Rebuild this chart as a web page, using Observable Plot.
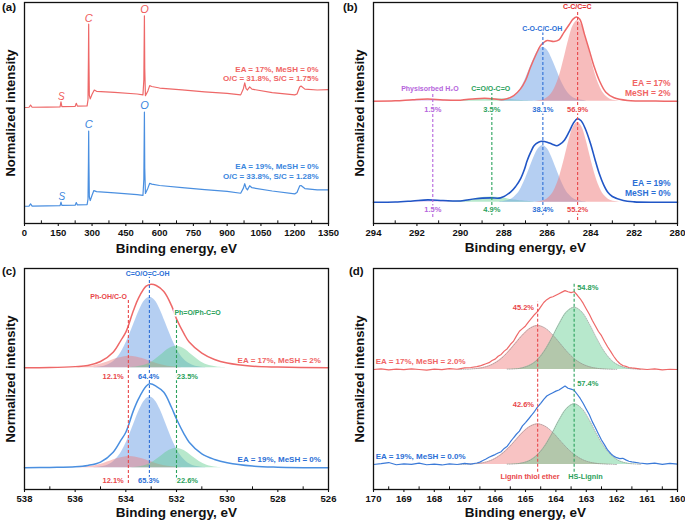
<!DOCTYPE html>
<html><head><meta charset="utf-8">
<script src="https://cdn.jsdelivr.net/npm/d3@7"></script>
<script src="https://cdn.jsdelivr.net/npm/@observablehq/plot@0.6"></script>
<style>
body{margin:0;background:#fff;font-family:"Liberation Sans",Arial,sans-serif;}
#wrap{position:relative;width:685px;height:523px;overflow:hidden;}
#wrap svg{position:absolute;}
.pl{position:absolute;font-weight:bold;font-size:11.5px;color:#111;line-height:12px;}
</style></head><body><div id="wrap"></div>
<script>
// ---------- tick labels ----------
const aTicks = [0,150,300,450,600,750,900,1050,1200,1350];
const aMinor = [75,225,375,525,675,825,975,1125,1275];
const bTicks = [294,292,290,288,286,284,282,280];
const bMinor = [293,291,289,287,285,283,281];
const cTicks = [538,536,534,532,530,528,526];
const cMinor = [537,535,533,531,529,527];
const dTicks = [170,169,168,167,166,165,164,163,162,161,160];
const dMinor = [169.5,168.5,167.5,166.5,165.5,164.5,163.5,162.5,161.5,160.5];

// ---------- (a) survey spectra: [eV, intensity] ----------
const surveyRed = [[0,52.5],[20,52.6],[27,53.6],[34,52.6],[100,52.7],[158,52.8],[162,55.0],[166,52.9],[225,53.0],[230,54.4],[235,53.1],[278,53.2],[282,56],[284,75],[285,90.2],[286,75],[288,58],[292,56.4],[300,58.5],[310,60.4],[320,59.8],[400,59.3],[500,58.6],[526,58.2],[530,65],[532.5,94],[534,70],[537,57.8],[548,60],[556,62.4],[565,62],[600,61.3],[700,60.5],[800,59.6],[900,58.9],[960,58.2],[972,61],[978,63.6],[984,61],[990,60.4],[1000,61.8],[1010,60.8],[1100,59.2],[1200,58.2],[1210,58.6],[1222,61.8],[1228,62.2],[1245,60.8],[1300,60.4],[1350,60.6]];
const surveyBlue = [[0,7.8],[20,7.9],[27,8.9],[34,7.9],[100,8.0],[158,8.1],[162,9.7],[166,8.2],[225,8.3],[230,9.5],[235,8.4],[278,8.5],[282,11],[284,28],[285,41.8],[286,28],[288,12],[292,10.4],[300,12.8],[308,14.9],[320,14.4],[400,13.9],[500,13.1],[526,12.7],[530,20],[532.5,50.4],[534,25],[537,13.6],[548,16],[556,18.2],[565,17.8],[600,17.2],[700,16.2],[800,15.3],[900,14.5],[960,13.7],[972,16],[978,18],[984,16],[990,15.2],[1000,17.1],[1010,16.2],[1100,14.7],[1200,13.4],[1210,14],[1222,17],[1228,17.2],[1245,15.8],[1300,15.2],[1350,15.2]];

// ---------- (b) C 1s ----------
const bBaseTop = 55.3, bBaseBot = 9.6;
const bEnvTop = [[294,55.3],[293,55.5],[292.2,56],[291.5,56.3],[290.8,55.9],[290,55.8],[289.3,56.5],[288.7,56.6],[288,56.1],[287.54,57.9],[287.23,60.9],[287,64.7],[286.77,70.7],[286.5,76.8],[286.31,80.5],[286.15,82],[286,82.8],[285.69,82.4],[285.46,83.1],[285.23,86.5],[285.0,89.8],[284.8,92.6],[284.65,93.4],[284.5,92.4],[284.29,85.8],[284.06,78.3],[283.83,70.7],[283.6,64.7],[283.3,59.4],[282.92,56.9],[282.3,55.7],[281,55.4],[280,55.3]];
const bEnvBot = [[294,9.6],[293,9.7],[292.2,10.2],[291.5,10.7],[290.8,10.4],[290,10.2],[289.3,11.2],[288.6,11.6],[288.15,11.6],[287.69,14.2],[287.45,16.8],[287.23,20.2],[287.05,24.5],[286.92,28.5],[286.75,32.5],[286.6,35.3],[286.4,36.8],[286.23,37.2],[286.0,36.8],[285.77,35.9],[285.55,35.2],[285.39,36],[285.2,37.8],[285.0,41.3],[284.8,45.3],[284.62,47.4],[284.45,46.6],[284.25,43],[284.0,36],[283.8,29],[283.6,22.5],[283.4,17.5],[283.2,14],[283,12.2],[282.5,10.4],[282,9.8],[281,9.6],[280,9.6]];
const bCCTop = [[286.6,55.3],[286.1,56.2],[285.8,58.8],[285.6,62.4],[285.4,68.0],[285.2,75.6],[285.0,83.5],[284.8,89.6],[284.6,91.9],[284.4,89.6],[284.2,83.5],[284.0,75.6],[283.8,68.0],[283.6,62.4],[283.4,58.8],[283.1,56.2],[282.6,55.3]];
const bCOTop = [[288.2,55.4],[287.7,56.4],[287.4,58.6],[287.2,61.4],[287.0,65.4],[286.8,70.2],[286.6,74.9],[286.4,78.5],[286.2,79.8],[286.0,78.5],[285.8,74.9],[285.6,70.2],[285.4,65.4],[285.2,61.4],[285.0,58.6],[284.7,56.4],[284.2,55.4]];
const bCOOTop = [[290.5,55.3],[289.5,55.9],[289.0,56.4],[288.5,56.6],[288.0,56.4],[287.5,55.9],[286.5,55.3]];
const bH2OTop = [[293.3,55.3],[292.3,55.7],[291.8,56.0],[291.3,56.2],[290.8,56.0],[290.3,55.7],[289.3,55.3]];
const bCCBot = [[286.6,9.6],[286.1,10.5],[285.8,13.0],[285.6,16.6],[285.4,22.2],[285.2,29.5],[285.0,37.4],[284.8,43.5],[284.6,45.8],[284.4,43.5],[284.2,37.4],[284.0,29.5],[283.8,22.2],[283.6,16.6],[283.4,13.0],[283.1,10.5],[282.6,9.6]];
const bCOBot = [[288.2,9.7],[287.7,10.7],[287.4,13.1],[287.2,16.0],[287.0,20.2],[286.8,25.2],[286.6,30.2],[286.4,33.9],[286.2,35.3],[286.0,33.9],[285.8,30.2],[285.6,25.2],[285.4,20.2],[285.2,16.0],[285.0,13.1],[284.7,10.7],[284.2,9.7]];
const bCOOBot = [[290.6,9.7],[289.6,10.7],[289.1,11.6],[288.6,12.0],[288.1,11.6],[287.6,10.7],[286.6,9.7]];
const bH2OBot = [[293.3,9.6],[292.3,10.0],[291.8,10.2],[291.3,10.4],[290.8,10.2],[290.3,10.0],[289.3,9.6]];

// ---------- (c) O 1s ----------
const cBaseTop = 55.1, cBaseBot = 9.8;
const cEnvTop = [[538,55.1],[537,55.2],[536,55.6],[535.5,56.1],[535,57.9],[534.5,62.1],[534.2,67.4],[534,71.2],[533.7,81.0],[533.5,86.6],[533.2,92.0],[533.0,92.9],[532.8,92.3],[532.5,89.6],[532.2,83.3],[532,77.2],[531.7,70.4],[531.5,66.7],[531,61.7],[530.5,58.8],[530,57.2],[529,55.8],[528,55.4],[526,55.1]];
const cEnvBot = [[538,9.8],[537,10.0],[536,10.3],[535.5,10.9],[535,12.4],[534.5,16.9],[534.2,22.2],[534,25.9],[533.7,35.7],[533.5,41.0],[533.2,46.7],[533.05,47.8],[532.8,46.7],[532.5,44.0],[532.2,37.2],[532,31.9],[531.7,25.1],[531.5,21.4],[531,16.1],[530.5,13.6],[530,12.1],[529,10.6],[528,10.1],[526,9.8]];
const cCOTop = [[535.25,55.2],[534.85,55.8],[534.55,57.3],[534.25,60.9],[534.05,64.9],[533.85,70.1],[533.65,75.9],[533.45,81.5],[533.25,85.5],[533.05,87.0],[532.85,85.5],[532.65,81.5],[532.45,75.9],[532.25,70.1],[532.05,64.9],[531.85,60.9],[531.55,57.3],[531.25,55.8],[530.85,55.2]];
const cPhOHTop = [[536.0,55.1],[535.35,55.8],[534.85,57.2],[534.35,59.3],[533.85,60.3],[533.35,59.3],[532.85,57.2],[532.35,55.8],[531.7,55.1]];
const cPhOTop = [[534.0,55.1],[533.6,55.4],[533.2,56.4],[532.9,58.3],[532.6,61.0],[532.3,63.7],[532.0,64.8],[531.7,63.7],[531.4,61.0],[531.1,58.3],[530.8,56.4],[530.4,55.4],[530.0,55.1]];
const cCOBot = [[535.25,9.9],[534.85,10.5],[534.55,12.0],[534.25,15.6],[534.05,19.6],[533.85,24.8],[533.65,30.7],[533.45,36.3],[533.25,40.3],[533.05,41.8],[532.85,40.3],[532.65,36.3],[532.45,30.7],[532.25,24.8],[532.05,19.6],[531.85,15.6],[531.55,12.0],[531.25,10.5],[530.85,9.9]];
const cPhOHBot = [[536.0,9.8],[535.35,10.5],[534.85,11.9],[534.35,13.9],[533.85,14.9],[533.35,13.9],[532.85,11.9],[532.35,10.5],[531.7,9.8]];
const cPhOBot = [[534.0,9.8],[533.6,10.1],[533.2,11.0],[532.9,12.7],[532.6,15.2],[532.3,17.6],[532.0,18.7],[531.7,17.6],[531.4,15.2],[531.1,12.7],[530.8,11.0],[530.4,10.1],[530.0,9.8]];

// ---------- (d) S 2p ----------
const dBaseTop = 54.3, dBaseBot = 11.3;
const dEnvTop = [[170,54.3],[169.75,54.6],[169.5,54.1],[169.25,54.5],[169,54.2],[168.75,54.6],[168.5,54.3],[168.25,54.0],[168,54.5],[167.75,54.2],[167.5,54.7],[167.25,54.4],[167,55.0],[166.8,55.2],[166.6,55.6],[166.5,55.9],[166.4,56.4],[166.3,56.9],[166.2,57.4],[166.1,58.4],[166,59.0],[165.9,60.3],[165.8,61.1],[165.7,62.6],[165.6,63.7],[165.5,65.6],[165.4,67.0],[165.3,69.4],[165.2,71.6],[165.1,72.8],[165,74.0],[164.9,75.8],[164.8,77.5],[164.7,79.2],[164.6,80.6],[164.5,82.6],[164.4,84.6],[164.3,85.9],[164.2,86.8],[164.1,87.2],[164,87.9],[163.9,88.6],[163.8,89.3],[163.7,90.0],[163.6,89.5],[163.5,89.1],[163.4,89.5],[163.3,88.0],[163.2,86.3],[163.1,84.2],[163,81.7],[162.9,79.3],[162.8,76.5],[162.7,74.0],[162.6,71.5],[162.5,69.6],[162.4,67.0],[162.3,64.6],[162.2,62.5],[162.1,60.3],[162,58.4],[161.9,57.0],[161.8,56.1],[161.7,55.7],[161.6,55.2],[161.5,55.0],[161.25,54.6],[161,54.3],[160.75,54.6],[160.5,54.1],[160.25,54.4],[160,54.3]];
const dEnvBot = [[170,11.3],[169.75,11.7],[169.5,12.2],[169.25,11.2],[169,11.6],[168.75,11.4],[168.5,11.9],[168.25,11.2],[168,11.5],[167.75,11.1],[167.5,11.6],[167.25,11.3],[167,11.8],[166.8,11.5],[166.6,12.0],[166.5,12.4],[166.4,13.1],[166.3,13.8],[166.2,14.6],[166.1,15.2],[166,15.8],[165.9,16.5],[165.8,17.1],[165.7,18.6],[165.6,19.6],[165.5,21.5],[165.4,23.3],[165.3,25.0],[165.2,26.4],[165.1,28.8],[165,30.3],[164.9,31.9],[164.8,33.6],[164.7,35.4],[164.6,37.4],[164.5,39.0],[164.4,40.8],[164.3,42.3],[164.2,43.1],[164.1,43.8],[164,44.5],[163.9,45.0],[163.8,45.9],[163.7,46.8],[163.6,45.8],[163.5,45.4],[163.4,44.9],[163.3,43.1],[163.2,41.2],[163.1,38.9],[163,36.3],[162.9,33.8],[162.8,30.6],[162.7,27.9],[162.6,25.1],[162.5,22.4],[162.4,20.2],[162.3,17.9],[162.2,16.3],[162.1,15.1],[162,14.4],[161.9,14.0],[161.8,14.1],[161.7,13.4],[161.6,12.8],[161.5,12.5],[161.25,12.0],[161,11.6],[160.75,11.9],[160.5,11.4],[160.25,11.8],[160,11.5]];
const dThioTop = [[167.2,54.3],[166.8,54.5],[166.4,55.2],[166.1,56.6],[165.85,58.7],[165.6,61.9],[165.35,65.9],[165.1,69.9],[164.85,73.0],[164.6,74.2],[164.35,73.0],[164.1,69.9],[163.85,65.9],[163.6,61.9],[163.35,58.7],[163.1,56.6],[162.8,55.2],[162.4,54.5],[162.0,54.3]];
const dHSTop = [[165.6,54.4],[165.2,54.8],[164.9,56.0],[164.65,58.2],[164.4,62.3],[164.15,68.2],[163.9,74.9],[163.65,80.4],[163.4,82.5],[163.15,80.4],[162.9,74.9],[162.65,68.2],[162.4,62.3],[162.15,58.2],[161.9,56.0],[161.6,54.8],[161.2,54.4]];
const dThioBot = [[167.2,11.3],[166.8,11.5],[166.4,12.1],[166.1,13.4],[165.85,15.4],[165.6,18.3],[165.35,22.0],[165.1,25.8],[164.85,28.6],[164.6,29.7],[164.35,28.6],[164.1,25.8],[163.85,22.0],[163.6,18.3],[163.35,15.4],[163.1,13.4],[162.8,12.1],[162.4,11.5],[162.0,11.3]];
const dHSBot = [[165.6,11.4],[165.2,11.8],[164.9,12.9],[164.65,15.2],[164.4,19.1],[164.15,24.8],[163.9,31.4],[163.65,36.7],[163.4,38.8],[163.15,36.7],[162.9,31.4],[162.65,24.8],[162.4,19.1],[162.15,15.2],[161.9,12.9],[161.6,11.8],[161.2,11.4]];

// ---------- drawing ----------
const FONT = '"Liberation Sans", Arial, Helvetica, sans-serif';
const RED = "#ee6868", RED_T = "#e8474a", RED_F = "#f07a7a";
const BLUE_A = "#4a8fe0", BLUE_B = "#2156c6", BLUE_D = "#3b7ad8", BLUE_T = "#2c6fd6", BLUE_F = "#6c9fe6";
const GREEN_T = "#2ba15c", GREEN_F = "#5fcb8d", PURPLE_T = "#b565dc", PURPLE_F = "#c896e4";
const X = d => d[0], Y = d => d[1];
const wrap = document.getElementById("wrap");

const area = (data, base, fill, op, curve = "catmull-rom") =>
  Plot.areaY(data, {x: X, y1: base, y2: Y, fill, fillOpacity: op, curve});
const line = (data, stroke, w, curve = "linear") =>
  Plot.line(data, {x: X, y: Y, stroke, strokeWidth: w, curve});
const lab = (t, x, y, fill, o = {}) =>
  Plot.text([t], {x, y, text: d => d, fill, fontSize: 7.5, ...o});
const halo = (t, x, y, fill, o = {}) => [
  Plot.text([t], {x, y, text: d => d, fill: "white", stroke: "white", strokeWidth: 3, strokeLinejoin: "round", fontSize: 7.5, ...o}),
  Plot.text([t], {x, y, text: d => d, fill, fontSize: 7.5, ...o})
];
const dash = (x, y1, y2, stroke) =>
  Plot.ruleX([x], {y1, y2, stroke, strokeWidth: 1.1, strokeDasharray: "3,2"});

function panel({domain, ticks, minor, marks, left, top, width, height, mt, mr, mb, ml, xdy}) {
  const svg = Plot.plot({
    width, height, marginTop: mt, marginRight: mr, marginBottom: mb, marginLeft: ml,
    x: {domain}, y: {domain: [0, 100], axis: null},
    style: {fontFamily: FONT, fontWeight: "bold", fontSize: "9.5px", color: "#111", background: "transparent", overflow: "visible"},
    marks: [
      ...marks,
      Plot.ruleX(minor, {y1: 0, y2: 1.2, stroke: "#111", strokeWidth: 1}),
      Plot.axisX({ticks, tickSize: 3, tickPadding: 2.5, tickFormat: d => String(d), label: null, fontSize: 9.5, strokeWidth: 1.1}),
      Plot.frame({stroke: "#111", strokeWidth: 1.3}),
      Plot.text(["Normalized intensity"], {text: d => d, frameAnchor: "left", textAnchor: "middle", lineAnchor: "middle", rotate: -90, dx: -13.5, fontSize: 13, fill: "#111"}),
      Plot.text(["Binding energy, eV"], {text: d => d, frameAnchor: "bottom", textAnchor: "middle", lineAnchor: "middle", dy: xdy, fontSize: 13.5, fill: "#111"})
    ]
  });
  svg.style.left = left + "px";
  svg.style.top = top + "px";
  wrap.appendChild(svg);
}

// (a)
panel({
  domain: [0, 1350], ticks: aTicks, minor: aMinor, left: 0, top: 0, width: 342, height: 262,
  mt: 2, mr: 14, mb: 39, ml: 24, xdy: 25,
  marks: [
    line(surveyRed, RED, 1.2),
    line(surveyBlue, BLUE_A, 1.2),
    lab("C", 285, 92.6, "#f05a5a", {fontStyle: "italic", fontWeight: "normal", fontSize: 11}),
    lab("O", 533, 96.8, "#f05a5a", {fontStyle: "italic", fontWeight: "normal", fontSize: 11}),
    lab("S", 164, 57.5, "#f05a5a", {fontStyle: "italic", fontWeight: "normal", fontSize: 10}),
    lab("C", 285, 44.8, "#3a86de", {fontStyle: "italic", fontWeight: "normal", fontSize: 11}),
    lab("O", 533, 53.4, "#3a86de", {fontStyle: "italic", fontWeight: "normal", fontSize: 11}),
    lab("S", 166, 12.2, "#3a86de", {fontStyle: "italic", fontWeight: "normal", fontSize: 10}),
    lab("EA = 17%, MeSH = 0%", 1306, 69.7, "#f06464", {textAnchor: "end", fontSize: 8}),
    lab("O/C = 31.8%, S/C = 1.75%", 1306, 65.6, "#f06464", {textAnchor: "end", fontSize: 8}),
    lab("EA = 19%, MeSH = 0%", 1306, 25.8, "#3a86de", {textAnchor: "end", fontSize: 8}),
    lab("O/C = 33.8%, S/C = 1.28%", 1306, 21.5, "#3a86de", {textAnchor: "end", fontSize: 8})
  ]
});

// (b)
panel({
  domain: [294, 280], ticks: bTicks, minor: bMinor, left: 342, top: 0, width: 343, height: 262,
  mt: 2, mr: 8, mb: 39, ml: 31, xdy: 24,
  marks: [
    area(bH2OTop, bBaseTop, PURPLE_F, 0.45), area(bCOOTop, bBaseTop, GREEN_F, 0.45),
    area(bCOTop, bBaseTop, BLUE_F, 0.5), area(bCCTop, bBaseTop, RED_F, 0.5),
    area(bH2OBot, bBaseBot, PURPLE_F, 0.45), area(bCOOBot, bBaseBot, GREEN_F, 0.45),
    area(bCOBot, bBaseBot, BLUE_F, 0.5), area(bCCBot, bBaseBot, RED_F, 0.5),
    line(bEnvTop, RED, 1.5, "catmull-rom"),
    line(bEnvBot, BLUE_B, 1.6, "catmull-rom"),
    dash(291.27, 2.7, 59.3, PURPLE_T), dash(288.55, 3.6, 58.8, GREEN_T),
    dash(286.2, 3.6, 86.4, BLUE_T), dash(284.6, 1.4, 96.4, RED_T),
    ...halo("Physisorbed H\u2082O", 291.4, 61.1, PURPLE_T, {fontSize: 7}),
    ...halo("C=O/O-C=O", 288.6, 61.1, GREEN_T, {fontSize: 7}),
    ...halo("C-O-C/C-OH", 286.23, 88.2, BLUE_T, {fontSize: 7}),
    ...halo("C-C/C=C", 284.62, 98.2, "#e02a2a", {fontSize: 7}),
    ...halo("1.5%", 291.27, 51.6, PURPLE_T), ...halo("3.5%", 288.55, 51.6, GREEN_T),
    ...halo("38.1%", 286.2, 51.6, BLUE_T), ...halo("56.9%", 284.6, 51.6, RED_T),
    ...halo("1.5%", 291.27, 6.3, PURPLE_T), ...halo("4.9%", 288.55, 6.3, GREEN_T),
    ...halo("38.4%", 286.2, 6.3, BLUE_T), ...halo("55.2%", 284.6, 6.3, RED_T),
    lab("EA = 17%", 280.32, 63.3, "#f06464", {textAnchor: "end", fontSize: 8.5}),
    lab("MeSH = 2%", 280.32, 58.8, "#f06464", {textAnchor: "end", fontSize: 8.5}),
    lab("EA = 19%", 280.32, 18.1, BLUE_T, {textAnchor: "end", fontSize: 8.5}),
    lab("MeSH = 0%", 280.32, 13.6, BLUE_T, {textAnchor: "end", fontSize: 8.5})
  ]
});

// (c)
panel({
  domain: [538, 526], ticks: cTicks, minor: cMinor, left: 0, top: 262, width: 342, height: 261,
  mt: 6, mr: 14, mb: 34, ml: 24, xdy: 23,
  marks: [
    area(cCOTop, cBaseTop, BLUE_F, 0.5), area(cPhOHTop, cBaseTop, RED_F, 0.45), area(cPhOTop, cBaseTop, GREEN_F, 0.45),
    area(cCOBot, cBaseBot, BLUE_F, 0.5), area(cPhOHBot, cBaseBot, RED_F, 0.45), area(cPhOBot, cBaseBot, GREEN_F, 0.45),
    line(cEnvTop, RED, 1.5, "catmull-rom"),
    line(cEnvBot, BLUE_A, 1.5, "catmull-rom"),
    dash(533.9, 2.7, 85.5, RED_T), dash(533.07, 2.7, 96.1, BLUE_T), dash(532.0, 2.7, 77.4, GREEN_T),
    ...halo("C=O/O=C-OH", 533.14, 97.6, BLUE_T, {fontSize: 7}),
    ...halo("Ph-OH/C-O", 534.68, 87.0, RED_T, {fontSize: 7}),
    ...halo("Ph=O/Ph-C=O", 531.17, 80.2, GREEN_T, {fontSize: 7}),
    ...halo("12.1%", 534.5, 51.3, RED_T), ...halo("64.4%", 533.1, 51.3, BLUE_T), ...halo("23.5%", 531.57, 51.3, GREEN_T),
    ...halo("12.1%", 534.5, 4.1, RED_T), ...halo("65.3%", 533.1, 4.1, BLUE_T), ...halo("22.6%", 531.57, 4.1, GREEN_T),
    lab("EA = 17%, MeSH = 2%", 526.3, 58.4, "#f06464", {textAnchor: "end", fontSize: 8}),
    lab("EA = 19%, MeSH = 0%", 526.3, 13.6, BLUE_T, {textAnchor: "end", fontSize: 8})
  ]
});

// (d)
panel({
  domain: [170, 160], ticks: dTicks, minor: dMinor, left: 342, top: 262, width: 343, height: 261,
  mt: 6, mr: 8, mb: 34, ml: 31, xdy: 23,
  marks: [
    area(dThioTop, dBaseTop, RED_F, 0.45), area(dHSTop, dBaseTop, GREEN_F, 0.45),
    area(dThioBot, dBaseBot, RED_F, 0.45), area(dHSBot, dBaseBot, GREEN_F, 0.45),
    Plot.line(dThioTop, {x: X, y: Y, stroke: "#8a8a8a", strokeWidth: 0.6, strokeDasharray: "1,1.2", curve: "catmull-rom"}),
    Plot.line(dHSTop, {x: X, y: Y, stroke: "#8a8a8a", strokeWidth: 0.6, strokeDasharray: "1,1.2", curve: "catmull-rom"}),
    Plot.line(dThioBot, {x: X, y: Y, stroke: "#8a8a8a", strokeWidth: 0.6, strokeDasharray: "1,1.2", curve: "catmull-rom"}),
    Plot.line(dHSBot, {x: X, y: Y, stroke: "#8a8a8a", strokeWidth: 0.6, strokeDasharray: "1,1.2", curve: "catmull-rom"}),
    line(dEnvTop, RED, 1.2),
    line(dEnvBot, BLUE_D, 1.2),
    dash(164.6, 7.8, 84.8, RED_T), dash(163.4, 7.8, 93.8, GREEN_T),
    lab("45.2%", 164.72, 82.5, RED_T, {textAnchor: "end"}),
    lab("54.8%", 163.3, 91.5, GREEN_T, {textAnchor: "start"}),
    lab("42.6%", 164.72, 38.5, RED_T, {textAnchor: "end"}),
    lab("57.4%", 163.3, 48.1, GREEN_T, {textAnchor: "start"}),
    lab("Lignin thiol ether", 164.85, 6.0, RED_T, {fontSize: 7.3}),
    lab("HS-Lignin", 163.03, 6.0, GREEN_T, {fontSize: 7.3}),
    lab("EA = 17%, MeSH = 2.0%", 169.93, 57.9, "#f06464", {textAnchor: "start", fontSize: 8}),
    lab("EA = 19%, MeSH = 0.0%", 169.93, 14.9, BLUE_T, {textAnchor: "start", fontSize: 8})
  ]
});

// panel letters
[["(a)", 2, 1], ["(b)", 343, 1], ["(c)", 2, 265], ["(d)", 349, 265]].forEach(([t, l, tp]) => {
  const d = document.createElement("div");
  d.className = "pl"; d.textContent = t; d.style.left = l + "px"; d.style.top = tp + "px";
  wrap.appendChild(d);
});
</script></body></html>
